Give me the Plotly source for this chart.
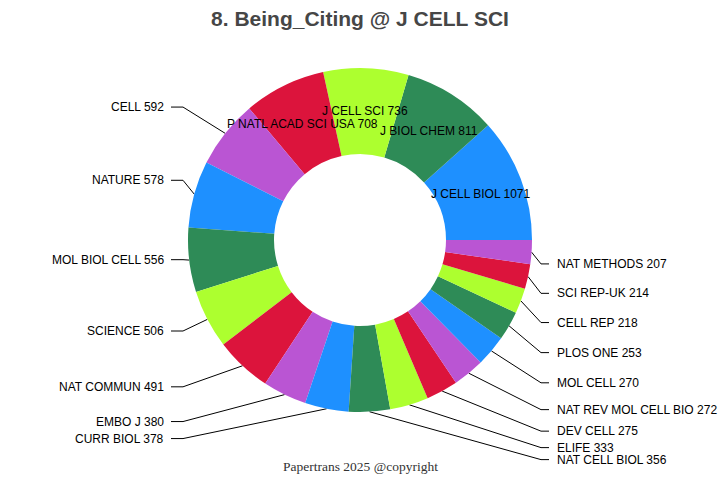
import math
import plotly.graph_objects as go

# ---------------- data ----------------
journals = ["J CELL BIOL", "J BIOL CHEM", "J CELL SCI", "P NATL ACAD SCI USA", "CELL",
            "NATURE", "MOL BIOL CELL", "SCIENCE", "NAT COMMUN", "EMBO J",
            "CURR BIOL", "NAT CELL BIOL", "ELIFE", "DEV CELL", "NAT REV MOL CELL BIO",
            "MOL CELL", "PLOS ONE", "CELL REP", "SCI REP-UK", "NAT METHODS"]
citations = [1071, 811, 736, 708, 592, 578, 556, 506, 491, 380,
             378, 356, 333, 275, 272, 270, 253, 218, 214, 207]
label_inside = [True, True, True, True] + [False] * 16
palette = ["#1E90FF", "#2E8B57", "#ADFF2F", "#DC143C", "#BA55D3"]
title_text = "8. Being_Citing @ J CELL SCI"
footer_text = "Papertrans 2025 @copyright"

# ---------------- geometry (pixels) ----------------
W, H = 720, 480
CX, CY = 360, 240
R_OUT = 172
HOLE = 0.5
R_MID = R_OUT * (1 + HOLE) / 2
START_ANGLE = 90.0          # first slice begins at 3 o'clock, runs counterclockwise
LABEL_R = 207
SIDE_DY = {"L": -4.5, "R": 9.3}
MIN_GAP = 12
X_TEXT = {"L": 165, "R": 556}
X_END = {"L": 171, "R": 549}
X_ELBOW = {"L": 183, "R": 541}

colors = [palette[i % len(palette)] for i in range(len(citations))]
texts = [f"{j} {c}" for j, c in zip(journals, citations)]

total = float(sum(citations))
mids = []
cum = 0.0
for v in citations:
    mid = START_ANGLE - (cum + v / 2.0) * 360.0 / total  # clockwise from 12 o'clock
    mid = (mid + 180.0) % 360.0 - 180.0
    mids.append(mid)
    cum += v

# plotly: with counterclockwise direction the first slice *ends* at `rotation`
pie_rotation = START_ANGLE - citations[0] * 360.0 / total


def polar(r, theta):
    t = math.radians(theta)
    return CX + r * math.sin(t), CY - r * math.cos(t)


fig = go.Figure()

fig.add_trace(go.Pie(
    labels=journals, values=citations,
    marker=dict(colors=colors, line=dict(width=0)),
    hole=HOLE, sort=False, direction="counterclockwise", rotation=pie_rotation,
    textinfo="none", showlegend=False,
    domain=dict(x=[(CX - R_OUT) / W, (CX + R_OUT) / W],
                y=[1 - (CY + R_OUT) / H, 1 - (CY - R_OUT) / H]),
    hovertemplate="%{label}: %{value}<extra></extra>",
))

annotations = []
# inside labels
for i, inside in enumerate(label_inside):
    if inside:
        x, y = polar(R_MID, mids[i])
        annotations.append(dict(x=x, y=y, xref="x", yref="y", text=texts[i],
                                showarrow=False, xanchor="center", yanchor="middle",
                                borderpad=0,
                                font=dict(family="Liberation Sans, Arial", size=12, color="#000")))

# outside labels with layout
sides = {"L": [], "R": []}
for i, inside in enumerate(label_inside):
    if inside:
        continue
    th = mids[i]
    side = "R" if math.sin(math.radians(th)) > 0 else "L"
    ly = CY + SIDE_DY[side] - LABEL_R * math.cos(math.radians(th))
    sides[side].append([ly, i])

line_x, line_y = [], []
for side, items in sides.items():
    items.sort()
    for k in range(1, len(items)):
        if items[k][0] < items[k - 1][0] + MIN_GAP:
            items[k][0] = items[k - 1][0] + MIN_GAP
    for ly, i in items:
        ax, ay = polar(R_OUT, mids[i])
        line_x += [ax, X_ELBOW[side], X_END[side], None]
        line_y += [ay, ly, ly, None]
        annotations.append(dict(x=X_TEXT[side], y=ly, xref="x", yref="y", text=texts[i],
                                showarrow=False,
                                xanchor="left" if side == "R" else "right",
                                yanchor="middle", borderpad=0,
                                font=dict(family="Liberation Sans, Arial", size=12, color="#000")))

fig.add_trace(go.Scatter(x=line_x, y=line_y, mode="lines",
                         line=dict(color="#000", width=1),
                         hoverinfo="skip", showlegend=False))

annotations.append(dict(x=0.5, y=466, xref="paper", yref="y", text=footer_text,
                        showarrow=False, xanchor="center", yanchor="middle",
                        font=dict(family="Liberation Serif, Times New Roman, serif",
                                  size=13.5, color="#333")))

fig.update_layout(
    width=W, height=H,
    margin=dict(l=0, r=0, t=0, b=0),
    paper_bgcolor="white", plot_bgcolor="white",
    title=dict(text=title_text, x=0.5, xanchor="center", y=1 - 18.5 / H, yanchor="middle",
               font=dict(family="Liberation Sans, Arial", size=21, color="#464646",
                         weight="bold")),
    xaxis=dict(range=[0, W], visible=False, fixedrange=True),
    yaxis=dict(range=[H, 0], visible=False, fixedrange=True),
    annotations=annotations,
)

fig.write_html("out.html")
